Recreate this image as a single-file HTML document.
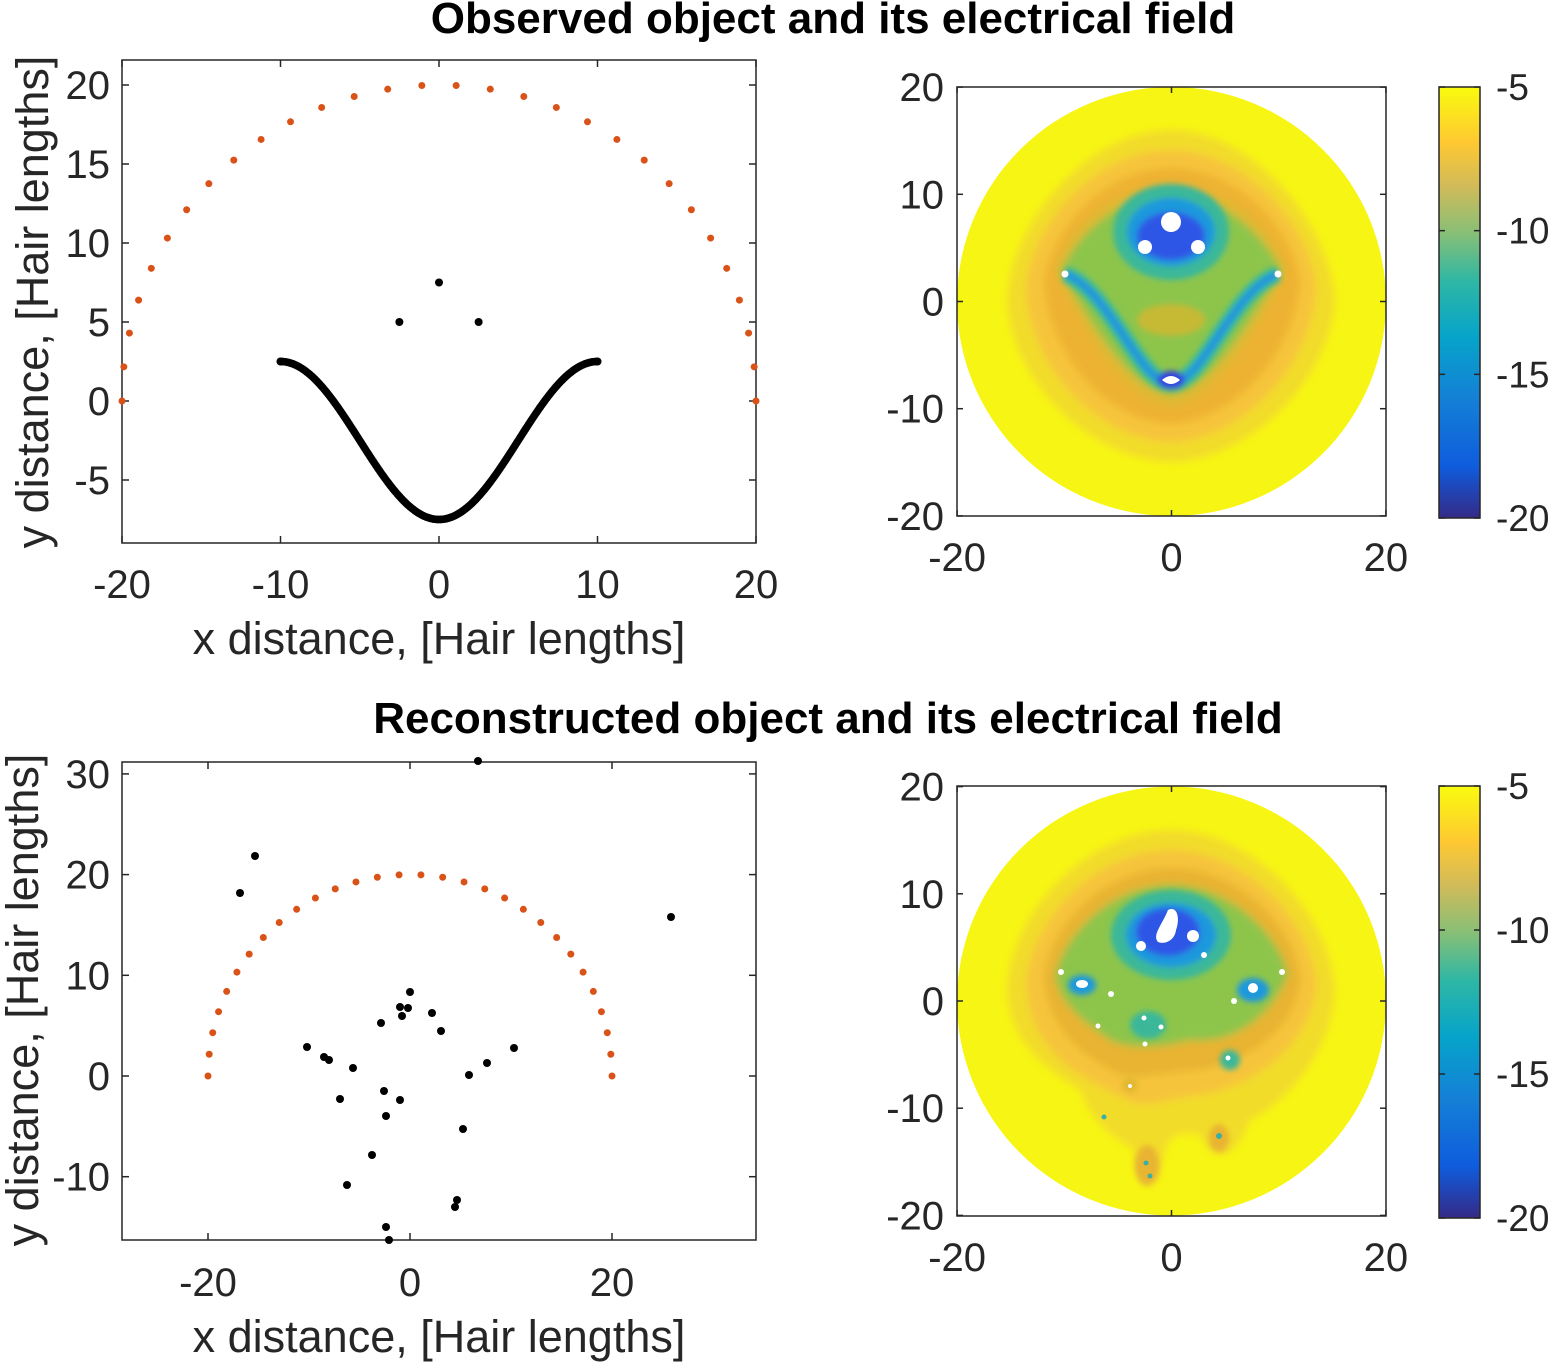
<!DOCTYPE html>
<html><head><meta charset="utf-8"><style>
html,body{margin:0;padding:0;background:#fff}
svg{display:block}
text{font-family:"Liberation Sans",Arial,sans-serif;fill:#262626}
.t{font-size:40px}
.c{font-size:37px}
.l{font-size:45px}
.h{font-size:44px;font-weight:bold;fill:#000}
</style></head><body>
<svg id="s" width="1550" height="1362" viewBox="0 0 1550 1362" xmlns="http://www.w3.org/2000/svg">
<defs>
<filter id="b8" x="-30%" y="-30%" width="160%" height="160%"><feGaussianBlur stdDeviation="4"/></filter>
<filter id="b3" x="-30%" y="-30%" width="160%" height="160%"><feGaussianBlur stdDeviation="3"/></filter>
<clipPath id="c1"><circle cx="1171.5" cy="301.5" r="214.5"/></clipPath>
<clipPath id="c2"><circle cx="1171.5" cy="1001" r="214.5"/></clipPath>
<linearGradient id="par" x1="0" y1="1" x2="0" y2="0">
<stop offset="0" stop-color="#352a87"/><stop offset="0.12" stop-color="#0f5cdd"/>
<stop offset="0.28" stop-color="#1481d6"/><stop offset="0.42" stop-color="#06a4ca"/>
<stop offset="0.55" stop-color="#2eb7a4"/><stop offset="0.66" stop-color="#87bf77"/>
<stop offset="0.77" stop-color="#d1bb59"/><stop offset="0.87" stop-color="#fec832"/>
<stop offset="1" stop-color="#f9fb0e"/></linearGradient>
</defs>
<rect width="1550" height="1362" fill="#fff"/>
<text class="h" x="833" y="33" text-anchor="middle">Observed object and its electrical field</text>
<text class="h" x="828" y="733" text-anchor="middle">Reconstructed object and its electrical field</text>

<rect x="122" y="60" width="634" height="483" fill="#fff" stroke="#262626" stroke-width="1.5"/>
<g id="tl"></g>
<rect x="122" y="762" width="634" height="478" fill="#fff" stroke="#262626" stroke-width="1.5"/>
<g id="bl"></g>

<g clip-path="url(#c1)">
<rect x="950" y="80" width="450" height="450" fill="#f7f514"/>
<g filter="url(#b8)">
<path d="M1171 130 C1250 130 1330 220 1335 300 C1330 380 1250 460 1171 462 C1090 460 1010 380 1007 300 C1010 220 1090 130 1171 130Z" fill="#f2dc2c"/>
<path d="M1171 150 C1245 150 1312 225 1316 290 C1310 370 1240 440 1171 442 C1100 440 1030 370 1026 290 C1030 225 1095 150 1171 150Z" fill="#f6c43a"/>
<path d="M1171 168 C1238 168 1296 230 1300 285 C1292 360 1230 422 1171 424 C1110 422 1050 360 1044 285 C1048 230 1105 168 1171 168Z" fill="#eeb232"/>
<path d="M1171 185 C1225 185 1270 220 1288 270 C1260 330 1215 405 1171 408 C1125 405 1080 330 1055 270 C1070 220 1115 185 1171 185Z" fill="#e1b830"/>
<path d="M1171 195 C1220 195 1262 230 1282 272 C1250 320 1210 392 1171 395 C1130 392 1090 320 1060 272 C1080 230 1120 195 1171 195Z" fill="#8dc54c"/>
</g>
<ellipse cx="1171" cy="320" rx="34" ry="16" fill="#c6ba35" filter="url(#b3)"/>
<g filter="url(#b3)">
<ellipse cx="1171" cy="232" rx="58" ry="48" fill="#3bb89a"/>
<ellipse cx="1171" cy="232" rx="44" ry="34" fill="#1f98dd"/>
<ellipse cx="1171" cy="236" rx="34" ry="24" fill="#2e56e6"/>
<path d="M1065 274 C1110 290 1140 385 1171 383 C1202 385 1232 290 1278 274" fill="none" stroke="#32b8a6" stroke-width="16"/>
<path d="M1065 274 C1110 290 1140 385 1171 383 C1202 385 1232 290 1278 274" fill="none" stroke="#1c86ee" stroke-width="5"/>
<ellipse cx="1171" cy="380" rx="14" ry="9" fill="#3040e0"/>
</g>
<g fill="#fff">
<circle cx="1171" cy="222" r="10"/><circle cx="1145" cy="247" r="7"/><circle cx="1198" cy="247" r="7"/>
<circle cx="1065" cy="274" r="3.5"/><circle cx="1278" cy="274" r="3.5"/>
<path d="M1162 380 Q1171 372 1180 380 Q1171 388 1162 380Z"/>
</g>
</g>
<rect x="957" y="87" width="429" height="429" fill="none" stroke="#262626" stroke-width="1.5"/>

<g clip-path="url(#c2)">
<rect x="950" y="780" width="450" height="450" fill="#f7f514"/>
<g filter="url(#b8)">
<path d="M1171 830 C1250 830 1330 910 1335 990 C1332 1050 1290 1100 1250 1120 C1235 1160 1215 1165 1200 1135 C1170 1130 1165 1140 1160 1175 C1150 1195 1135 1190 1135 1150 C1100 1130 1090 1115 1080 1090 C1030 1060 1008 1030 1007 990 C1010 910 1090 830 1171 830Z" fill="#f2dc2c"/>
<path d="M1171 850 C1245 850 1312 920 1316 985 C1312 1040 1260 1085 1200 1095 C1160 1100 1140 1110 1125 1098 C1060 1070 1030 1040 1026 985 C1030 920 1095 850 1171 850Z" fill="#f6c43a"/>
<path d="M1171 868 C1238 868 1296 925 1300 980 C1295 1030 1250 1060 1200 1070 C1160 1072 1140 1080 1120 1075 C1070 1050 1048 1020 1044 980 C1048 925 1105 868 1171 868Z" fill="#e8b432"/>
<path d="M1171 885 C1230 885 1280 935 1288 975 C1270 1020 1230 1045 1190 1040 C1160 1048 1130 1050 1110 1040 C1080 1020 1058 1000 1055 975 C1065 935 1110 885 1171 885Z" fill="#8dc54c"/>
</g>
<g filter="url(#b3)">
<ellipse cx="1171" cy="935" rx="60" ry="45" fill="#3bb89a"/>
<ellipse cx="1171" cy="935" rx="45" ry="32" fill="#1f98dd"/>
<ellipse cx="1168" cy="932" rx="32" ry="24" fill="#2e56e6"/>
<ellipse cx="1082" cy="985" rx="14" ry="10" fill="#1f98dd"/>
<ellipse cx="1253" cy="990" rx="16" ry="12" fill="#1f98dd"/>
<ellipse cx="1148" cy="1025" rx="18" ry="14" fill="#3bb89a"/>
<ellipse cx="1230" cy="1060" rx="10" ry="10" fill="#3bb89a"/>
<ellipse cx="1130" cy="1085" rx="8" ry="8" fill="#e1b830"/>
<ellipse cx="1219" cy="1138" rx="10" ry="14" fill="#e8b432"/>
<ellipse cx="1147" cy="1165" rx="12" ry="20" fill="#e8b432"/>
</g>
<g fill="#fff">
<path d="M1168 910 C1178 905 1180 920 1176 930 C1175 940 1165 945 1158 942 C1152 935 1162 925 1168 910Z"/>
<circle cx="1193" cy="936" r="6"/><circle cx="1141" cy="946" r="5"/><circle cx="1204" cy="955" r="3"/>
<circle cx="1061" cy="972" r="3"/><ellipse cx="1082" cy="984" rx="6" ry="4"/><circle cx="1111" cy="994" r="3"/>
<circle cx="1253" cy="988" r="5"/><circle cx="1234" cy="1001" r="3"/><circle cx="1282" cy="972" r="3"/>
<circle cx="1098" cy="1026" r="2.5"/><circle cx="1144" cy="1018" r="2.5"/><circle cx="1161" cy="1027" r="2.5"/>
<circle cx="1145" cy="1044" r="2.5"/><circle cx="1228" cy="1058" r="2.5"/><circle cx="1130" cy="1086" r="2"/>
</g>
<g fill="#3bb0a0"><circle cx="1104" cy="1117" r="2.5"/><circle cx="1219" cy="1136" r="3"/><circle cx="1146" cy="1163" r="2.5"/><circle cx="1150" cy="1176" r="2.5"/></g>
</g>
<rect x="957" y="786" width="429" height="430" fill="none" stroke="#262626" stroke-width="1.5"/>

<rect x="1439" y="87" width="41" height="431" fill="url(#par)" stroke="#262626" stroke-width="1.5"/>
<rect x="1439" y="786" width="41" height="432" fill="url(#par)" stroke="#262626" stroke-width="1.5"/>
<g id="cb"></g>
<g id="rt"></g>

<text class="l" transform="translate(48,302) rotate(-90)" text-anchor="middle">y distance, [Hair lengths]</text>
<text class="l" transform="translate(38,1000) rotate(-90)" text-anchor="middle">y distance, [Hair lengths]</text>
<text class="l" x="439" y="654" text-anchor="middle">x distance, [Hair lengths]</text>
<text class="l" x="439" y="1352" text-anchor="middle">x distance, [Hair lengths]</text>
</svg>
<script>
var NS="http://www.w3.org/2000/svg";
function el(p,t,a,txt){var e=document.createElementNS(NS,t);for(var k in a)e.setAttribute(k,a[k]);if(txt!==undefined)e.textContent=txt;document.getElementById(p).appendChild(e);return e;}
function tick(g,x1,y1,x2,y2){el(g,"line",{x1:x1,y1:y1,x2:x2,y2:y2,stroke:"#262626","stroke-width":1.5});}
var ox=439,oy=401,sx=15.85,sy=15.8;
[-20,-10,0,10,20].forEach(function(v){var x=ox+v*sx;tick("tl",x,543,x,536);tick("tl",x,60,x,67);el("tl","text",{class:"t",x:x,y:598,"text-anchor":"middle"},v);});
[20,15,10,5,0,-5].forEach(function(v){var y=oy-v*sy;tick("tl",122,y,129,y);tick("tl",756,y,749,y);el("tl","text",{class:"t",x:110,y:y+14,"text-anchor":"end"},v);});
for(var k=0;k<30;k++){var a=Math.PI*k/29;el("tl","circle",{cx:ox+20*Math.cos(a)*sx,cy:oy-20*Math.sin(a)*sy,r:3.5,fill:"#d95319"});}
for(var i=0;i<=400;i++){var x=-10+20*i/400,y=-2.5-5*Math.cos(Math.PI*x/10);el("tl","circle",{cx:ox+x*sx,cy:oy-y*sy,r:3.8,fill:"#000"});}
[[0,7.5],[-2.5,5],[2.5,5],[-10,2.5],[10,2.5]].forEach(function(p){el("tl","circle",{cx:ox+p[0]*sx,cy:oy-p[1]*sy,r:4,fill:"#000"});});
var bx=410,by=1076,bsx=10.1,bsy=10.07;
[-20,0,20].forEach(function(v){var x=bx+v*bsx;tick("bl",x,1240,x,1233);tick("bl",x,762,x,769);el("bl","text",{class:"t",x:x,y:1296,"text-anchor":"middle"},v);});
[30,20,10,0,-10].forEach(function(v){var y=by-v*bsy;tick("bl",122,y,129,y);tick("bl",756,y,749,y);el("bl","text",{class:"t",x:110,y:y+14,"text-anchor":"end"},v);});
for(var k=0;k<30;k++){var a=Math.PI*k/29;el("bl","circle",{cx:bx+20*Math.cos(a)*bsx,cy:by-20*Math.sin(a)*bsy,r:3.5,fill:"#d95319"});}
[[478,761],[255,856],[240,893],[671,917],[410,992],[400,1007],[408,1008],[402,1016],[432,1013],[381,1023],[441,1031],[307,1047],[324,1057],[329,1060],[514,1048],[487,1063],[353,1068],[469,1075],[384,1091],[340,1099],[400,1100],[386,1116],[463,1129],[372,1155],[347,1185],[457,1200],[455,1207],[386,1227],[389,1240]].forEach(function(p){el("bl","circle",{cx:p[0],cy:p[1],r:4,fill:"#000"});});
[[87,516,301.5],[786,1216,1001]].forEach(function(b){
 [-20,0,20].forEach(function(v){var x=1171.5+v*10.72;tick("rt",x,b[1],x,b[1]-6);tick("rt",x,b[0],x,b[0]+6);el("rt","text",{class:"t",x:x,y:b[1]+55,"text-anchor":"middle"},v);});
 [20,10,0,-10,-20].forEach(function(v){var y=b[2]-v*10.72;tick("rt",957,y,963,y);tick("rt",1386,y,1380,y);el("rt","text",{class:"t",x:944,y:y+14,"text-anchor":"end"},v);});
});
[[87,518],[786,1218]].forEach(function(b){
 [-5,-10,-15,-20].forEach(function(v,i){var y=b[0]+(b[1]-b[0])*i/3;tick("cb",1439,y,1445,y);tick("cb",1480,y,1474,y);el("cb","text",{class:"c",x:1496,y:y+13},v);});
});
</script>
</body></html>
